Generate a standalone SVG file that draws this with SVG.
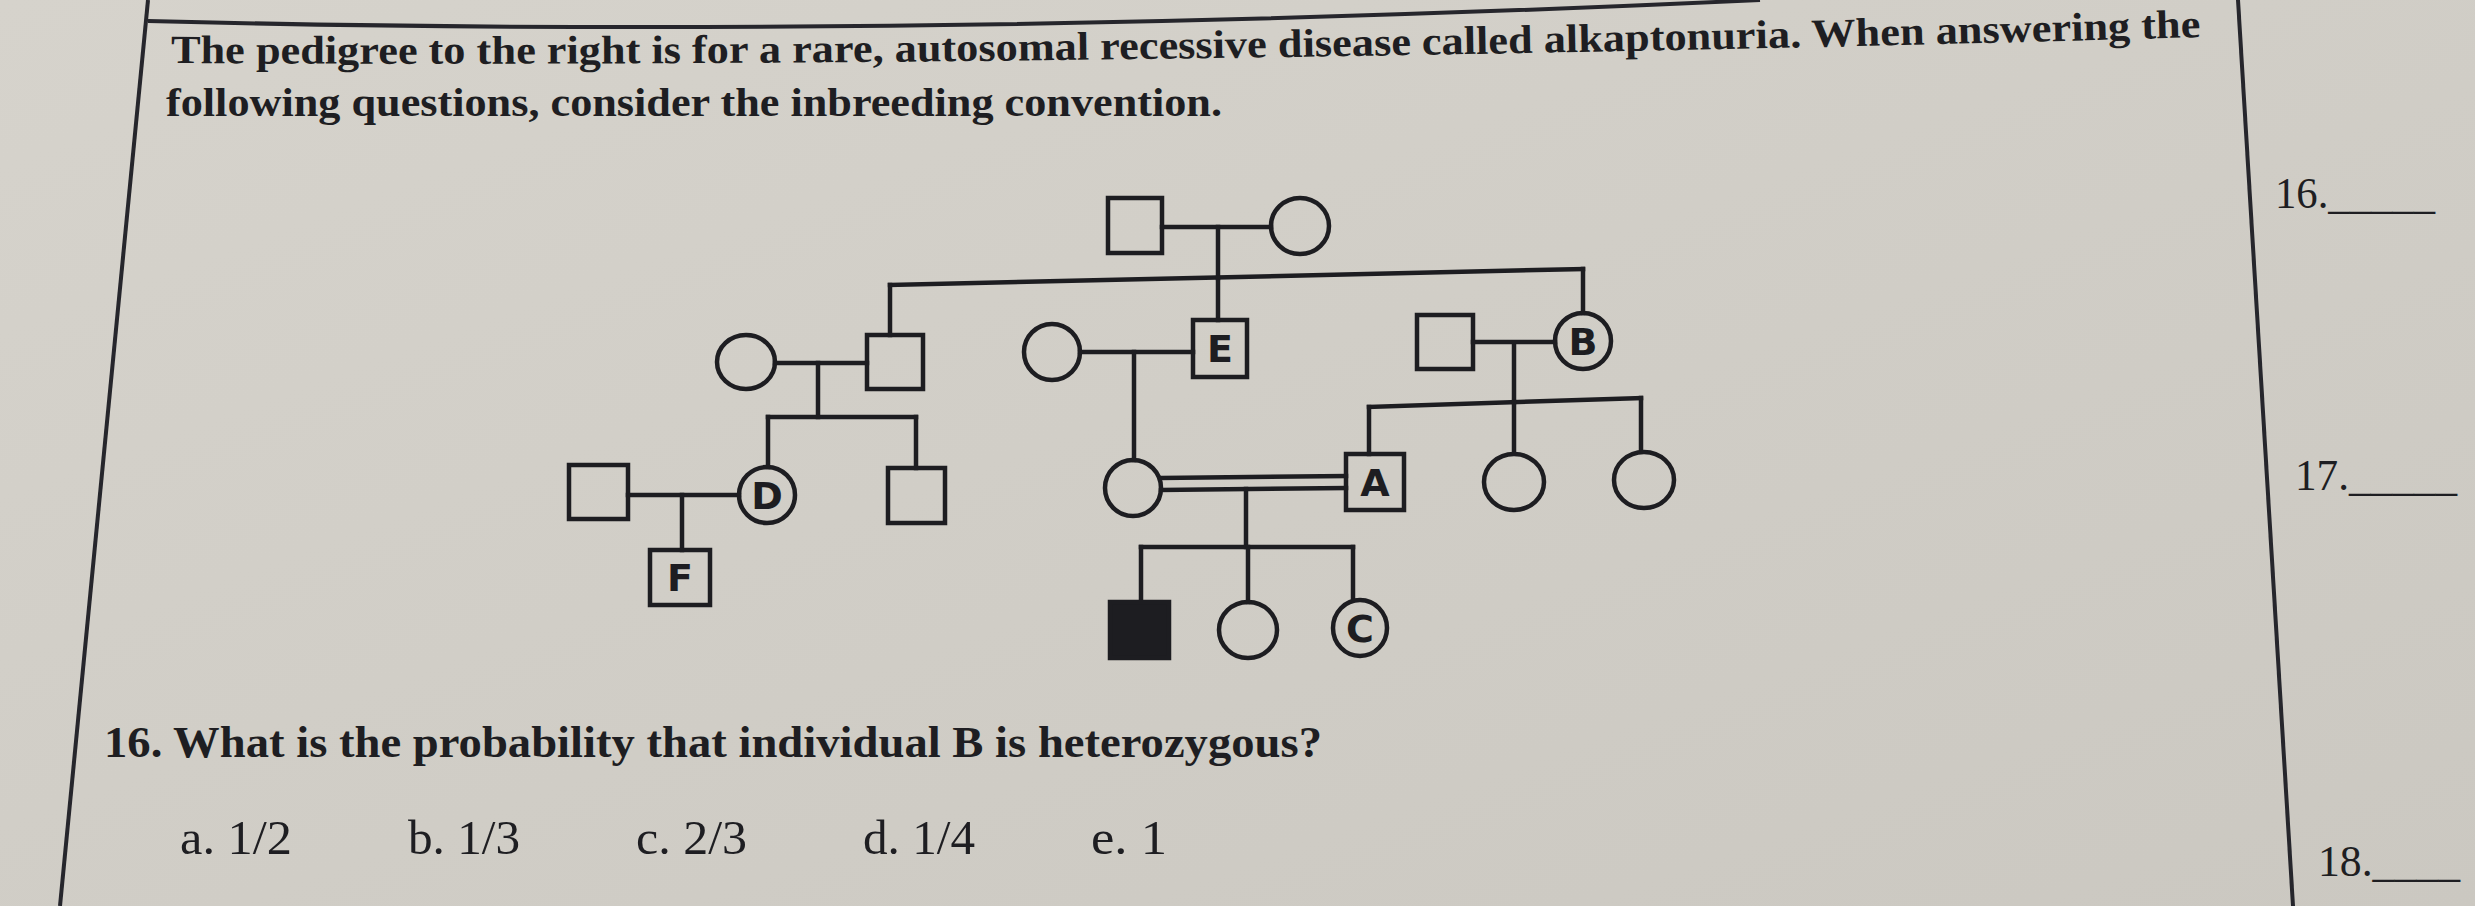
<svg xmlns="http://www.w3.org/2000/svg" xmlns:xlink="http://www.w3.org/1999/xlink" width="2475" height="906" viewBox="0 0 2475 906">
<style>
.sym{fill:none;stroke:#1d1d21;stroke-width:4.5}
.aff{fill:#1d1d21;stroke:#1d1d21;stroke-width:4.5}
.ln{fill:none;stroke:#1d1d21;stroke-width:4.5;stroke-linecap:square}
.frame{fill:none;stroke:#26262c;stroke-width:4}
.lbl{font-family:"DejaVu Sans",Verdana,sans-serif;font-weight:bold;font-size:38px;fill:#1d1d21;text-anchor:middle}
.hdr{font-family:"Liberation Serif","Times New Roman",serif;font-weight:bold;font-size:40px;fill:#1e1e22}
.q{font-family:"Liberation Serif","Times New Roman",serif;font-weight:bold;font-size:45px;fill:#1e1e22}
.ans{font-family:"Liberation Serif","Times New Roman",serif;font-size:48px;fill:#1e1e22}
.num{font-family:"Liberation Serif","Times New Roman",serif;font-size:44px;fill:#1e1e22}
</style>
<defs>
<linearGradient id="paper" x1="0" y1="0" x2="1" y2="1">
<stop offset="0" stop-color="#d6d3cc"/>
<stop offset="1" stop-color="#cbc8c1"/>
</linearGradient>
<path id="hdrpath" d="M171,63 Q1100,68 2205,37"/>
</defs>
<rect x="0" y="0" width="2475" height="906" fill="url(#paper)"/>

<g id="frame">
<path class="frame" d="M148,0 L60,906"/>
<path class="frame" d="M148,21 Q900,40 1760,0"/>
<path class="frame" d="M2238,0 L2293,906"/>
</g>

<g id="header">
<text class="hdr"><textPath xlink:href="#hdrpath" textLength="2030" lengthAdjust="spacingAndGlyphs">The pedigree to the right is for a rare, autosomal recessive disease called alkaptonuria. When answering the</textPath></text>
<text class="hdr" x="166" y="116" textLength="1056" lengthAdjust="spacingAndGlyphs">following questions, consider the inbreeding convention.</text>
</g>

<g id="connectors">
<line class="ln" x1="1162" y1="227" x2="1271" y2="227"/>
<line class="ln" x1="1218" y1="227" x2="1218" y2="278"/>
<line class="ln" x1="890" y1="285" x2="1583" y2="269"/>
<line class="ln" x1="890" y1="285" x2="890" y2="335"/>
<line class="ln" x1="1218" y1="278" x2="1218" y2="320"/>
<line class="ln" x1="1583" y1="269" x2="1583" y2="313"/>
<line class="ln" x1="775" y1="363" x2="867" y2="363"/>
<line class="ln" x1="818" y1="363" x2="818" y2="417"/>
<line class="ln" x1="768" y1="417" x2="916" y2="417"/>
<line class="ln" x1="768" y1="417" x2="768" y2="467"/>
<line class="ln" x1="916" y1="417" x2="916" y2="468"/>
<line class="ln" x1="1080" y1="352" x2="1193" y2="352"/>
<line class="ln" x1="1134" y1="352" x2="1134" y2="460"/>
<line class="ln" x1="1473" y1="342" x2="1555" y2="342"/>
<line class="ln" x1="1514" y1="346" x2="1514" y2="402"/>
<line class="ln" x1="1369" y1="407" x2="1641" y2="398"/>
<line class="ln" x1="1369" y1="407" x2="1369" y2="454"/>
<line class="ln" x1="1514" y1="402" x2="1514" y2="453"/>
<line class="ln" x1="1641" y1="398" x2="1641" y2="451"/>
<line class="ln" x1="628" y1="495" x2="739" y2="495"/>
<line class="ln" x1="682" y1="495" x2="682" y2="550"/>
<line class="ln" x1="1161" y1="478" x2="1346" y2="476"/>
<line class="ln" x1="1161" y1="490" x2="1346" y2="488"/>
<line class="ln" x1="1246" y1="489" x2="1246" y2="547"/>
<line class="ln" x1="1141" y1="547" x2="1353" y2="547"/>
<line class="ln" x1="1141" y1="547" x2="1141" y2="602"/>
<line class="ln" x1="1248" y1="547" x2="1248" y2="602"/>
<line class="ln" x1="1353" y1="547" x2="1353" y2="600"/>
</g>

<g id="I1"><rect class="sym" x="1108" y="198" width="54" height="55"/></g>
<g id="I2"><ellipse class="sym" cx="1300" cy="226" rx="29" ry="28"/></g>

<g id="II1-wife"><ellipse class="sym" cx="746" cy="362" rx="29" ry="27"/></g>
<g id="II1"><rect class="sym" x="867" y="335" width="56" height="54"/></g>
<g id="II-E-wife"><ellipse class="sym" cx="1052" cy="352" rx="28" ry="28"/></g>
<g id="E"><rect class="sym" x="1193" y="320" width="54" height="57"/><text class="lbl" x="1220" y="362">E</text></g>
<g id="B-husband"><rect class="sym" x="1417" y="315" width="56" height="54"/></g>
<g id="B"><ellipse class="sym" cx="1583" cy="341" rx="28" ry="28"/><text class="lbl" x="1583" y="355">B</text></g>

<g id="F-father"><rect class="sym" x="569" y="465" width="59" height="54"/></g>
<g id="D"><ellipse class="sym" cx="767" cy="495" rx="28" ry="28"/><text class="lbl" x="767" y="509">D</text></g>
<g id="III-male"><rect class="sym" x="888" y="468" width="57" height="55"/></g>
<g id="III-female"><ellipse class="sym" cx="1133" cy="488" rx="28" ry="28"/></g>
<g id="A"><rect class="sym" x="1346" y="454" width="58" height="56"/><text class="lbl" x="1375" y="496">A</text></g>
<g id="III-sis1"><ellipse class="sym" cx="1514" cy="482" rx="30" ry="28"/></g>
<g id="III-sis2"><ellipse class="sym" cx="1644" cy="480" rx="30" ry="28"/></g>

<g id="F"><rect class="sym" x="650" y="550" width="60" height="55"/><text class="lbl" x="680" y="591">F</text></g>
<g id="IV-affected"><rect class="aff" x="1110" y="602" width="59" height="56"/></g>
<g id="IV-female"><ellipse class="sym" cx="1248" cy="630" rx="29" ry="28"/></g>
<g id="C"><ellipse class="sym" cx="1360" cy="628" rx="27" ry="28"/><text class="lbl" x="1360" y="642">C</text></g>

<g id="question">
<text class="q" x="104" y="757" textLength="1218" lengthAdjust="spacingAndGlyphs">16. What is the probability that individual B is heterozygous?</text>
<text class="ans" x="180" y="854" textLength="112" lengthAdjust="spacingAndGlyphs">a. 1/2</text>
<text class="ans" x="408" y="854" textLength="112" lengthAdjust="spacingAndGlyphs">b. 1/3</text>
<text class="ans" x="636" y="854" textLength="111" lengthAdjust="spacingAndGlyphs">c. 2/3</text>
<text class="ans" x="863" y="854" textLength="112" lengthAdjust="spacingAndGlyphs">d. 1/4</text>
<text class="ans" x="1091" y="854" textLength="76" lengthAdjust="spacingAndGlyphs">e. 1</text>
</g>

<g id="answers">
<text class="num" x="2275" y="208" textLength="160" lengthAdjust="spacingAndGlyphs">16._____</text>
<text class="num" x="2295" y="490" textLength="162" lengthAdjust="spacingAndGlyphs">17._____</text>
<text class="num" x="2318" y="876" textLength="142" lengthAdjust="spacingAndGlyphs">18.____</text>
</g>
</svg>
